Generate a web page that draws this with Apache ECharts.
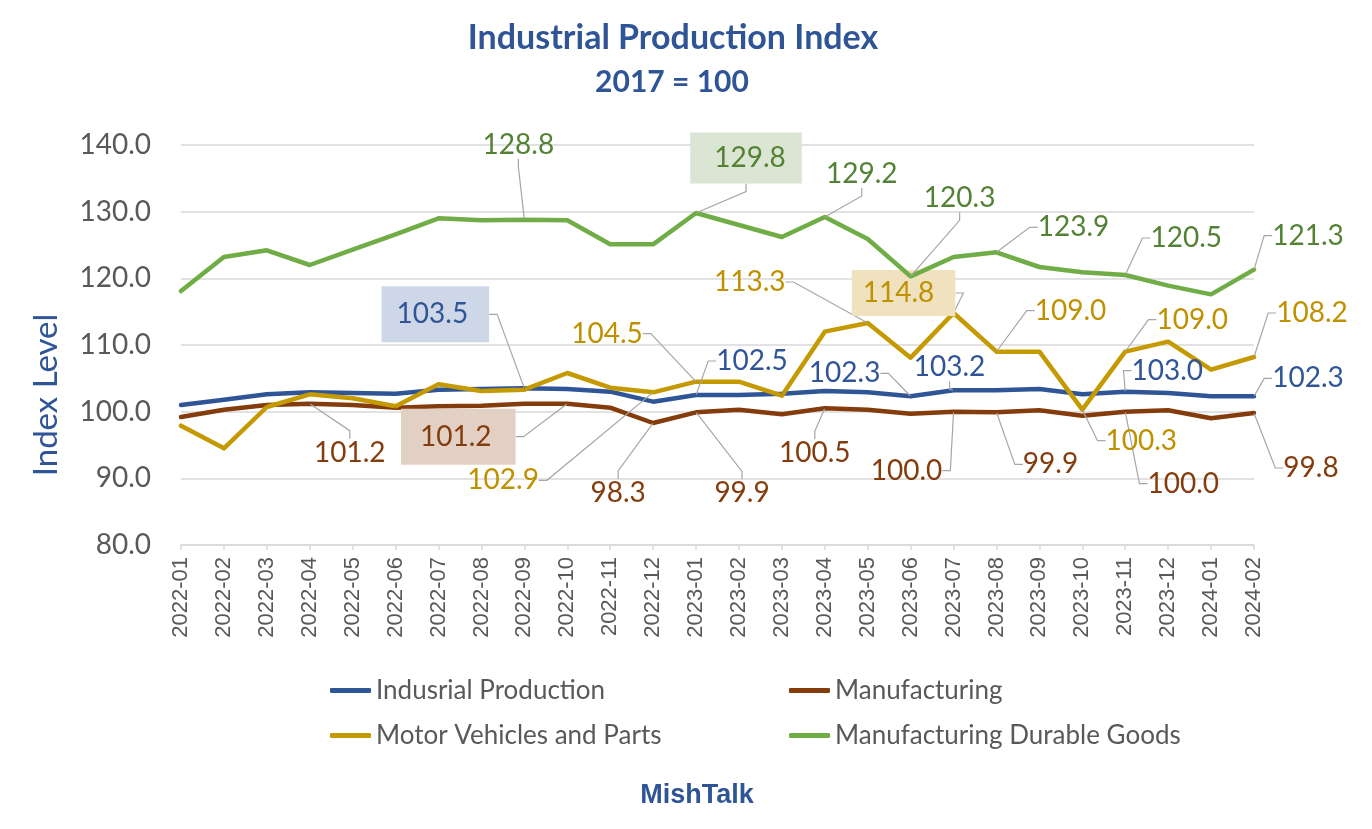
<!DOCTYPE html>
<html>
<head>
<meta charset="utf-8">
<script src="https://cdn.jsdelivr.net/npm/echarts@6/dist/echarts.min.js"></script>
<style>
  html, body { margin: 0; padding: 0; background: #fff; }
  #myChart { width: 1372px; height: 829px; }
</style>
</head>
<body>
<div id="myChart"></div>
<script>
// categories
const months = ['2022-01', '2022-02', '2022-03', '2022-04', '2022-05', '2022-06', '2022-07', '2022-08', '2022-09', '2022-10', '2022-11', '2022-12',
  '2023-01', '2023-02', '2023-03', '2023-04', '2023-05', '2023-06', '2023-07', '2023-08', '2023-09', '2023-10', '2023-11', '2023-12',
  '2024-01', '2024-02']

// series values
const industrial = [101.0, 101.8, 102.6, 102.9, 102.8, 102.7, 103.3, 103.4, 103.5, 103.4, 103.0, 101.5,
  102.5, 102.5, 102.7, 103.1, 102.9, 102.3, 103.2, 103.2, 103.4, 102.6, 103.0, 102.8, 102.3, 102.3]
const manufacturing = [99.2, 100.3, 101.0, 101.2, 101.0, 100.6, 100.8, 100.9, 101.2, 101.2, 100.6, 98.3,
  99.9, 100.3, 99.6, 100.5, 100.3, 99.7, 100.0, 99.9, 100.2, 99.4, 100.0, 100.2, 99.0, 99.8]
const motorVehicles = [97.9, 94.5, 100.7, 102.6, 102.0, 100.8, 104.1, 103.1, 103.3, 105.8, 103.6, 102.9,
  104.5, 104.5, 102.4, 112.0, 113.3, 108.1, 114.8, 109.0, 109.0, 100.3, 109.0, 110.5, 106.3, 108.2]
const durableGoods = [118.1, 123.2, 124.2, 122.0, 124.3, 126.6, 129.0, 128.7, 128.8, 128.7, 125.1, 125.1,
  129.8, 128.0, 126.2, 129.2, 125.9, 120.3, 123.2, 123.9, 121.7, 120.9, 120.5, 118.9, 117.6, 121.3]

// y axis ticks
const yMin = 80
const yMax = 140
const yStep = 10

// which points get a callout: [index, dx, dy, boxed]
const industrialCallouts = [[8, -89, -74, true], [12, 56, -34], [17, -66, -23], [18, -4, -23], [22, 42, -21], [25, 54, -18]]
const manufacturingCallouts = [[3, 40, 49], [9, -109, 33, true], [11, -35, 70], [12, 46, 81], [15, -10, 45], [18, -47, 59], [19, 54, 52], [22, 58, 72], [25, 57, 55]]
const motorCallouts = [[11, -150, 88], [12, -89, -48], [16, -118, -41], [18, -50, -20, true], [19, 74, -41], [21, 59, 31], [22, 67, -32], [25, 58, -44]]
const durableCallouts = [[8, -6, -75], [12, 50, -55, true], [15, 37, -43], [17, 49, -78], [19, 77, -25], [22, 61, -37], [25, 54, -34]]

const chartSeries = [
  { name: 'Indusrial Production', values: industrial, callouts: industrialCallouts, line: '#2F5597', text: '#2F5597', box: '#CDD7E8', pad: [11, 21, 17, 15] },
  { name: 'Manufacturing', values: manufacturing, callouts: manufacturingCallouts, line: '#843C0C', text: '#843C0C', box: '#E3D0C5', pad: [11, 24, 17, 19] },
  { name: 'Motor Vehicles and Parts', values: motorVehicles, callouts: motorCallouts, line: '#C49A00', text: '#BF9000', box: '#F1E2BF', pad: [9, 21, 9, 11] },
  { name: 'Manufacturing Durable Goods', values: durableGoods, callouts: durableCallouts, line: '#70AD47', text: '#548235', box: '#DAE5D3', pad: [12, 16, 11, 24] }
]

const offsets = chartSeries.map(s => {
  const m = {}
  s.callouts.forEach(c => { m[c[0]] = { dx: c[1], dy: c[2] } })
  return m
})

const series = chartSeries.map((s, si) => {
  const boxed = {}
  s.callouts.forEach(c => { boxed[c[0]] = !!c[3] })
  return {
    name: s.name,
    type: 'line',
    symbol: 'circle',
    symbolSize: 1,
    showAllSymbol: true,
    z: si === 3 ? 3 : 2,
    lineStyle: { width: 4.5, color: s.line, cap: 'round', join: 'round' },
    itemStyle: { color: s.line },
    emphasis: { disabled: true },
    label: {
      show: false,
      fontFamily: 'Lato',
      fontSize: 28,
      color: s.text,
      formatter: p => Number(p.value).toFixed(1)
    },
    labelLine: {
      show: true,
      length2: 8,
      lineStyle: { color: '#A6A6A6', width: 1.2 }
    },
    labelLayout: function (p) {
      const o = offsets[p.seriesIndex][p.dataIndex]
      if (!o) return {}
      return {
        x: p.rect.x + p.rect.width / 2 + o.dx,
        y: p.rect.y + p.rect.height / 2 + o.dy,
        align: 'center',
        verticalAlign: 'middle'
      }
    },
    data: s.values.map((v, i) => {
      if (offsets[si][i] === undefined) return v
      const lbl = { show: true }
      if (boxed[i]) {
        lbl.backgroundColor = s.box
        lbl.padding = s.pad
      }
      return { value: v, label: lbl }
    })
  }
})

const legendText = { fontFamily: 'Lato', fontSize: 26, color: '#595959', lineHeight: 29 }

const myChart = echarts.init(document.getElementById('myChart'))
myChart.setOption({
  animation: false,
  title: [
    {
      text: 'Industrial Production Index',
      left: 668,
      top: 16,
      textAlign: 'center',
      textStyle: { fontFamily: 'Lato', fontWeight: 'bold', fontSize: 34, color: '#2F5597' }
    },
    {
      text: '2017 = 100',
      left: 667,
      top: 62,
      textAlign: 'center',
      textStyle: { fontFamily: 'Lato', fontWeight: 'bold', fontSize: 30, color: '#2F5597' }
    },
    {
      text: 'MishTalk',
      left: 692,
      top: 777,
      textAlign: 'center',
      textStyle: { fontFamily: 'Liberation Sans', fontWeight: 'bold', fontSize: 27, color: '#2F5597' }
    }
  ],
  legend: [
    {
      data: ['Indusrial Production', 'Motor Vehicles and Parts'],
      orient: 'vertical',
      left: 325,
      top: 671,
      icon: 'roundRect',
      itemWidth: 41,
      itemHeight: 5,
      itemGap: 16,
      textStyle: legendText
    },
    {
      data: ['Manufacturing', 'Manufacturing Durable Goods'],
      orient: 'vertical',
      left: 784,
      top: 671,
      icon: 'roundRect',
      itemWidth: 41,
      itemHeight: 5,
      itemGap: 16,
      textStyle: legendText
    }
  ],
  grid: {
    left: 181,
    right: 118,
    top: 145,
    bottom: 284
  },
  xAxis: {
    type: 'category',
    data: months,
    boundaryGap: false,
    axisLine: { lineStyle: { color: '#D9D9D9', width: 1.5 } },
    axisTick: { show: true, length: 5, alignWithLabel: true, lineStyle: { color: '#D9D9D9', width: 1.5 } },
    axisLabel: {
      rotate: 90,
      interval: 0,
      margin: 12,
      fontFamily: 'Liberation Sans',
      fontSize: 22,
      color: '#595959'
    },
    splitLine: { show: false }
  },
  yAxis: {
    type: 'value',
    min: yMin,
    max: yMax,
    interval: yStep,
    name: 'Index Level',
    nameLocation: 'middle',
    nameRotate: 90,
    nameGap: 118,
    nameTextStyle: { fontFamily: 'Lato', fontSize: 33, color: '#2F5597', padding: [0, 100, 0, 0] },
    axisLine: { show: false },
    axisTick: { show: false },
    axisLabel: {
      margin: 30,
      fontFamily: 'Lato',
      fontSize: 28,
      color: '#595959',
      formatter: v => v.toFixed(1)
    },
    splitLine: { lineStyle: { color: '#D9D9D9', width: 1.5 } }
  },
  series: series
})
</script>
</body>
</html>
